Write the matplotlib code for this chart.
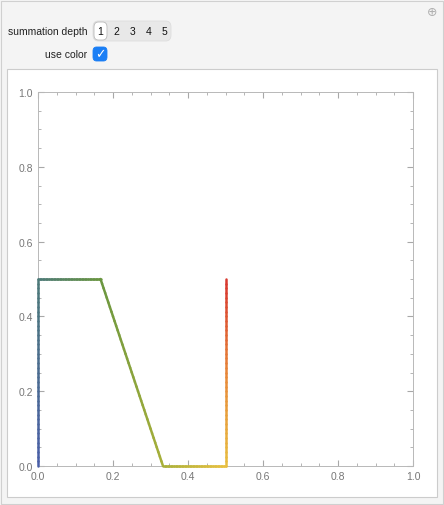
import numpy as np
import matplotlib
matplotlib.use("Agg")
import matplotlib.pyplot as plt
from matplotlib.collections import LineCollection
from matplotlib.colors import LinearSegmentedColormap
from matplotlib.patches import FancyBboxPatch, Rectangle

plt.rcParams['font.family'] = ['Liberation Sans', 'DejaVu Sans']

xs = [0.0, 0.0, 1/6, 1/3, 0.5, 0.5]
ys = [0.0, 0.5, 0.5, 0.0, 0.0, 0.5]
depth_labels = ["1", "2", "3", "4", "5"]
ticks = [0.0, 0.2, 0.4, 0.6, 0.8, 1.0]

fig = plt.figure(figsize=(4.44, 5.06), dpi=100)
fig.patch.set_facecolor("#f4f4f4")
W, H = 444, 506
def fx(p): return p / W
def fy(p): return 1 - p / H

fig.patches.append(Rectangle((fx(1), fy(505)), fx(442), 503 / H, transform=fig.transFigure,
                             facecolor="#f4f4f4", edgecolor="#d0d0d0", lw=0.8, zorder=-3))
fig.patches.append(Rectangle((fx(7), fy(498)), fx(430), 428 / H, transform=fig.transFigure,
                             facecolor="white", edgecolor="#cccccc", lw=0.8, zorder=-2))
fig.text(fx(87), fy(32), "summation depth", ha="right", va="center", fontsize=7.5, color="#222222")
fig.patches.append(FancyBboxPatch((fx(93), fy(42)), fx(78), 20 / H, boxstyle="round,pad=0,rounding_size=0.012",
                                  transform=fig.transFigure, facecolor="#e8e8e8", edgecolor="#dddddd", lw=0.6))
fig.patches.append(FancyBboxPatch((fx(94), fy(41)), fx(13), 18 / H, boxstyle="round,pad=0,rounding_size=0.01",
                                  transform=fig.transFigure, facecolor="white", edgecolor="#bbbbbb", lw=0.6))
for i, lab in enumerate(depth_labels):
    fig.text(fx(100.5 + i * 16), fy(32), lab, ha="center", va="center", fontsize=7.5, color="#111111")
fig.text(fx(87), fy(55), "use color", ha="right", va="center", fontsize=7.5, color="#222222")
fig.patches.append(FancyBboxPatch((fx(93), fy(62)), fx(14), 14 / H, boxstyle="round,pad=0,rounding_size=0.008",
                                  transform=fig.transFigure, facecolor="#1a7ef5", edgecolor="#1a7ef5", lw=0.6))
fig.text(fx(100), fy(55), "✓", ha="center", va="center", fontsize=9, color="white", fontweight="bold",
         family=['DejaVu Sans'])
fig.text(fx(432), fy(13), "⊕", ha="center", va="center", fontsize=9, color="#b0b0b0", family=['DejaVu Sans'])

ax = fig.add_axes([fx(38), 1 - 467 / H, fx(375), 374 / H])
ax.set_xlim(0, 1)
ax.set_ylim(0, 1)

px, py = [], []
for i in range(len(xs) - 1):
    t = np.linspace(0, 1, 40, endpoint=False)
    px.extend(xs[i] + (xs[i + 1] - xs[i]) * t)
    py.extend(ys[i] + (ys[i + 1] - ys[i]) * t)
px.append(xs[-1]); py.append(ys[-1])
px, py = np.array(px), np.array(py)
pts = np.column_stack([px, py]).reshape(-1, 1, 2)
segs = np.concatenate([pts[:-1], pts[1:]], axis=1)
cmap = LinearSegmentedColormap.from_list("mm", [
    (0.0, "#4a5fa8"), (0.2, "#4d7a78"), (0.4, "#6a9640"), (0.6, "#a8b03a"),
    (0.8, "#e8c040"), (0.9, "#e88a3a"), (1.0, "#d83a30")])
param = np.linspace(0, 1, len(segs))
lc = LineCollection(segs, colors=cmap(param), linewidth=1.8, capstyle="round",
                    clip_on=False, zorder=5)
ax.add_collection(lc)

ax.set_xticks(ticks)
ax.set_yticks(ticks)
ax.set_xticklabels([f"{t:.1f}" for t in ticks])
ax.set_yticklabels([f"{t:.1f}" for t in ticks])
ax.set_xticks(np.arange(0, 1.001, 0.05), minor=True)
ax.set_yticks(np.arange(0, 1.001, 0.05), minor=True)
for s in ax.spines.values():
    s.set_color("#b8b8b8"); s.set_linewidth(0.7)
ax.tick_params(which="both", direction="in", colors="#a8a8a8", labelcolor="#777777", labelsize=7.5)
ax.tick_params(which="major", length=4, top=True, right=True)
ax.tick_params(which="minor", length=2, top=True, right=True)
fig.savefig("out.png", dpi=100, facecolor=fig.get_facecolor())
